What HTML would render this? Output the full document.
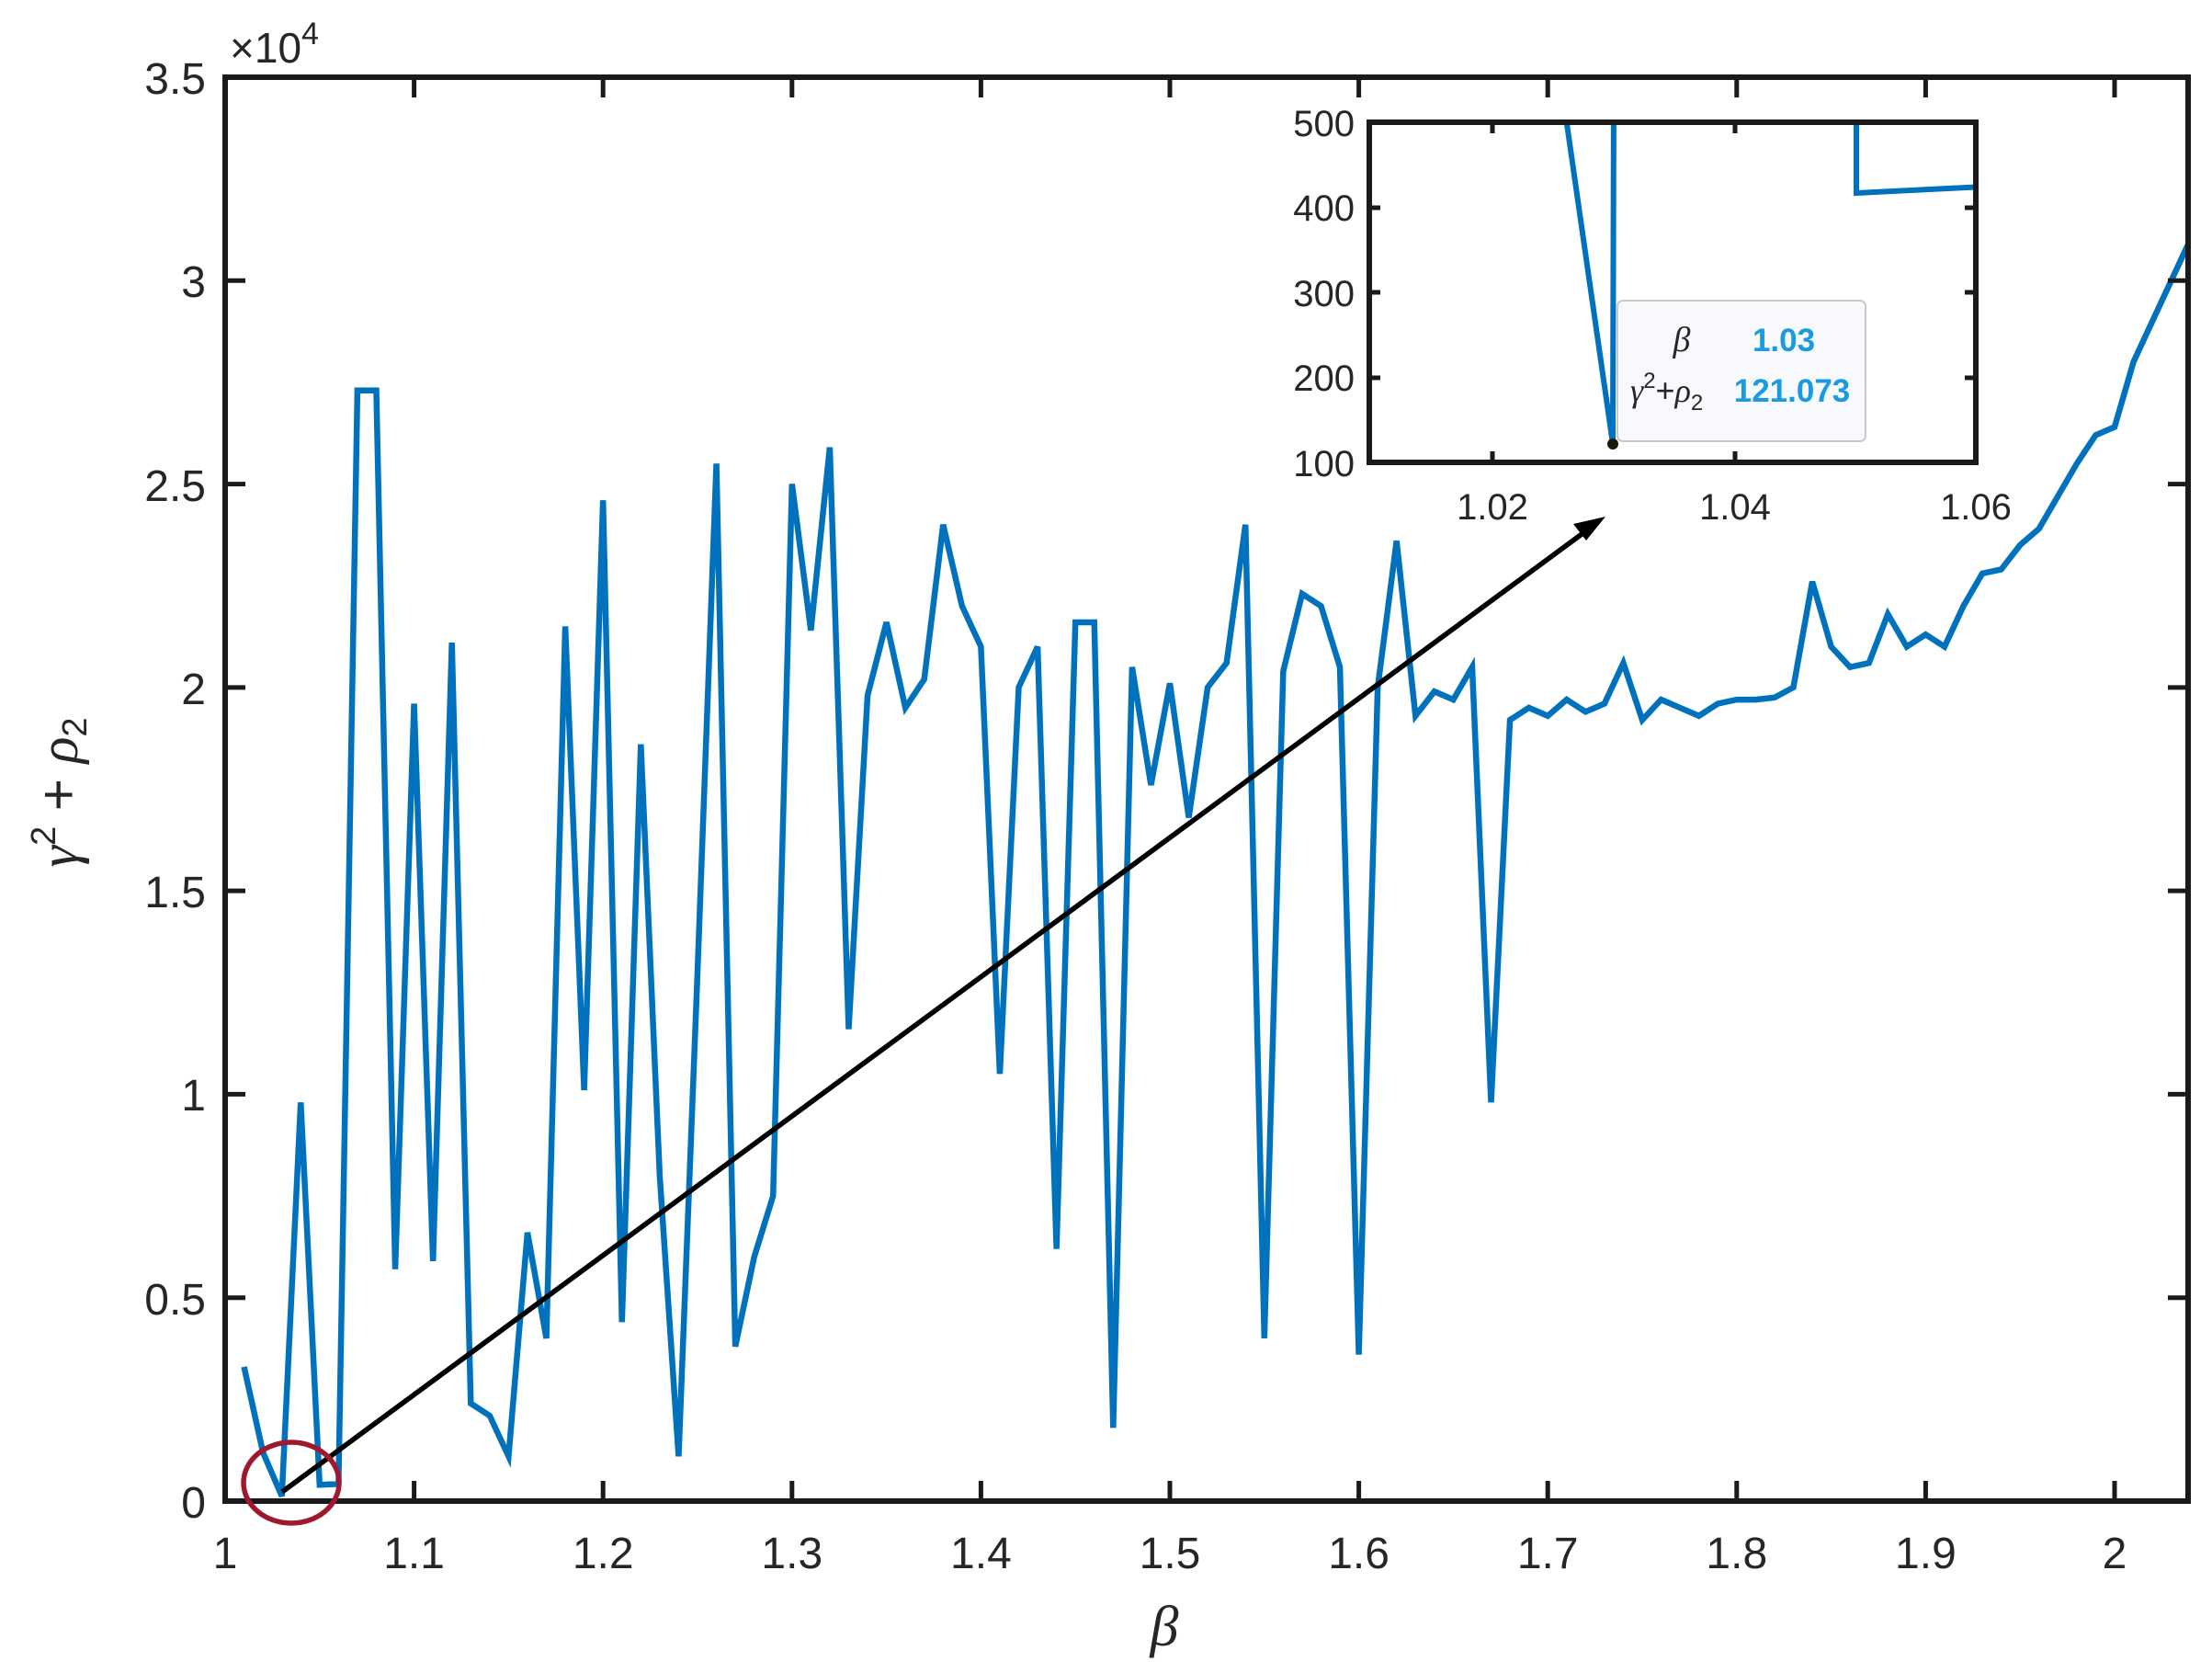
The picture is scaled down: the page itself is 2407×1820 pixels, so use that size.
<!DOCTYPE html>
<html><head><meta charset="utf-8"><style>
html,body{margin:0;padding:0;background:#fff;}
svg{display:block;}
text{font-family:"Liberation Sans",sans-serif;fill:#262626;}
.s{font-family:"Liberation Serif",serif;font-style:italic;}
</style></head><body>
<svg width="2407" height="1820" viewBox="0 0 2407 1820" xmlns="http://www.w3.org/2000/svg">
<defs>
<clipPath id="c"><rect x="245" y="84" width="2136" height="1549"/></clipPath>
<clipPath id="ci"><rect x="1490" y="133" width="660" height="370"/></clipPath>
</defs>
<rect width="2407" height="1820" fill="#fff"/>
<g clip-path="url(#c)">
<polyline fill="none" stroke="#0072BD" stroke-width="6.5" stroke-linejoin="miter" vector-effect="non-scaling-stroke"
transform="matrix(20.56,0,0,-4.426,245,1633)"
points="1,33 2,12 3,1.2 4,98 5,4 6,4.2 7,273 8,273 9,57 10,196 11,59 12,211 13,24 14,21 15,11 16,66 17,40 18,215 19,101 20,246 21,44 22,186 23,80 24,11 25,130 26,255 27,38 28,60 29,75 30,250 31,214 32,259 33,116 34,198 35,216 36,195 37,202 38,240 39,220 40,210 41,105 42,200 43,210 44,62 45,216 46,216 47,18 48,205 49,176 50,201 51,168 52,200 53,206 54,240 55,40 56,204 57,223 58,220 59,205 60,36 61,200 62,236 63,193 64,199 65,197 66,205 67,98 68,192 69,195 70,193 71,197 72,194 73,196 74,206 75,192 76,197 77,195 78,193 79,196 80,197 81,197 82,197.5 83,200 84,226 85,210 86,205 87,206 88,218 89,210 90,213 91,210 92,220 93,228 94,229 95,235 96,239 97,247 98,255 99,262 100,264 101,280 102,290 103,300 104,310"/>
</g>
<rect x="245" y="84" width="2136" height="1549" fill="none" stroke="#1a1a1a" stroke-width="6"/>
<g stroke="#1a1a1a" stroke-width="5">
<path d="M245,1633v-22M450.6,1633v-22M656.2,1633v-22M861.8,1633v-22M1067.4,1633v-22M1273,1633v-22M1478.6,1633v-22M1684.2,1633v-22M1889.8,1633v-22M2095.4,1633v-22M2301,1633v-22"/>
<path d="M245,84v22M450.6,84v22M656.2,84v22M861.8,84v22M1067.4,84v22M1273,84v22M1478.6,84v22M1684.2,84v22M1889.8,84v22M2095.4,84v22M2301,84v22"/>
<path d="M245,1411.7h22M245,1190.4h22M245,969.1h22M245,747.9h22M245,526.6h22M245,305.3h22M245,84h22"/>
<path d="M2381,1411.7h-22M2381,1190.4h-22M2381,969.1h-22M2381,747.9h-22M2381,526.6h-22M2381,305.3h-22"/>
</g>
<g font-size="48" text-anchor="middle">
<text x="245" y="1706">1</text><text x="450.6" y="1706">1.1</text><text x="656.2" y="1706">1.2</text><text x="861.8" y="1706">1.3</text><text x="1067.4" y="1706">1.4</text><text x="1273" y="1706">1.5</text><text x="1478.6" y="1706">1.6</text><text x="1684.2" y="1706">1.7</text><text x="1889.8" y="1706">1.8</text><text x="2095.4" y="1706">1.9</text><text x="2301" y="1706">2</text>
</g>
<g font-size="48" text-anchor="end">
<text x="224" y="1651">0</text><text x="224" y="1430">0.5</text><text x="224" y="1208">1</text><text x="224" y="987">1.5</text><text x="224" y="766">2</text><text x="224" y="545">2.5</text><text x="224" y="323">3</text><text x="224" y="102">3.5</text>
</g>
<text x="250" y="68" font-size="46">×10<tspan dy="-20" font-size="34">4</tspan></text>
<text class="s" x="1267" y="1790" font-size="62" text-anchor="middle">β</text>
<text transform="translate(84,862) rotate(-90)" font-size="60" text-anchor="middle"><tspan class="s">γ</tspan><tspan dy="-24" font-size="38">2</tspan><tspan dy="24"> + </tspan><tspan class="s">ρ</tspan><tspan dy="10" font-size="38">2</tspan></text>
<line x1="307" y1="1623" x2="1728" y2="576" stroke="#000" stroke-width="5.5"/>
<polygon points="1747,562 1712,570 1726,588" fill="#000"/>
<ellipse cx="317" cy="1613" rx="52" ry="44" fill="none" stroke="#a0182e" stroke-width="5.5"/>
<rect x="1490" y="133" width="660" height="370" fill="#fff"/>
<g clip-path="url(#ci)">
<polyline fill="none" stroke="#0072BD" stroke-width="6" points="1700,100 1755,483 1756,100"/>
<polyline fill="none" stroke="#0072BD" stroke-width="6" points="2020,100 2020,210 2160,203"/>
</g>
<rect x="1490" y="133" width="660" height="370" fill="none" stroke="#1a1a1a" stroke-width="6"/>
<g stroke="#1a1a1a" stroke-width="5">
<path d="M1624,503v-12M1888,503v-12M1624,133v12M1888,133v12"/>
<path d="M1490,411h12M1490,318h12M1490,226h12M2150,411h-12M2150,318h-12M2150,226h-12"/>
</g>
<g font-size="40" text-anchor="end">
<text x="1474" y="518">100</text><text x="1474" y="425">200</text><text x="1474" y="333">300</text><text x="1474" y="240">400</text><text x="1474" y="148">500</text>
</g>
<g font-size="40" text-anchor="middle">
<text x="1624" y="565">1.02</text><text x="1888" y="565">1.04</text><text x="2150" y="565">1.06</text>
</g>
<rect x="1760" y="327" width="270" height="153" rx="6" fill="#f8f9fc" stroke="#c8c8c8" stroke-width="2"/>
<circle cx="1755" cy="483" r="6" fill="#1a1a0a"/>
<text class="s" x="1830" y="382" font-size="38" text-anchor="middle" fill="#333">β</text>
<text x="1941" y="382" font-size="35" font-weight="bold" text-anchor="middle" style="fill:#1a9ae0">1.03</text>
<text x="1774" y="437" font-size="36" fill="#333"><tspan class="s">γ</tspan><tspan dy="-15" font-size="24">2</tspan><tspan dy="15">+</tspan><tspan class="s">ρ</tspan><tspan dy="9" font-size="24">2</tspan></text>
<text x="1950" y="437" font-size="35" font-weight="bold" text-anchor="middle" style="fill:#1a9ae0">121.073</text>
</svg>
</body></html>
